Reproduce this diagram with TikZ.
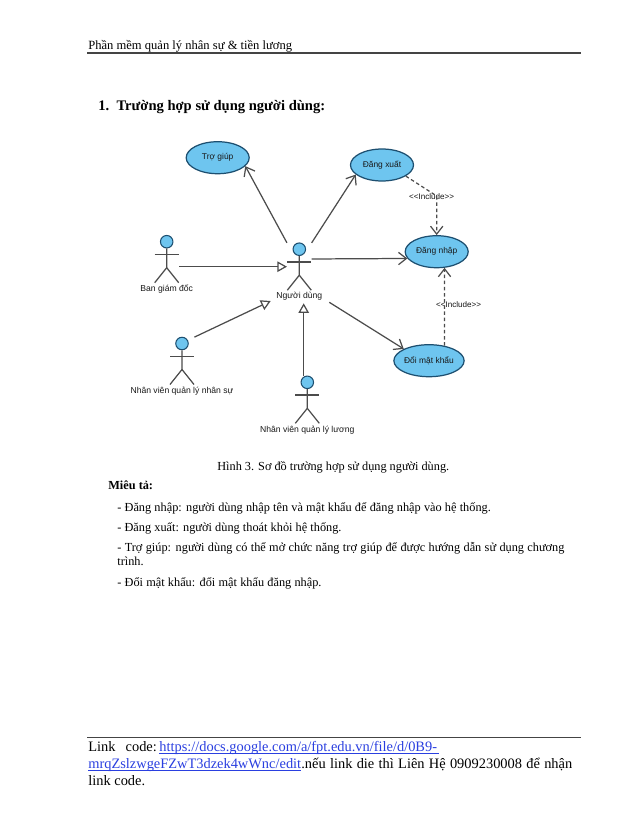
\documentclass[tikz,border=0pt]{standalone}
\usepackage{fontspec}
\setmainfont{Liberation Serif}
\setsansfont{Liberation Sans}
\usetikzlibrary{shapes.geometric,arrows.meta}
\definecolor{usecasefill}{HTML}{6EC5EF}
\definecolor{usecaseline}{HTML}{1D4F70}
\definecolor{linkblue}{HTML}{2A3FE0}
\definecolor{rulegray}{HTML}{444444}
\newcommand{\umlactor}[4]{
  \begin{scope}[shift={(#2,#3)}]
    \node[actorbox] (#1) at (0,0) {};
    \node[actorhead] (#1-head) at (0,-17.5) {};
    \draw[umlline] (#1-head) -- (0,8.5) -- (-12,23.5);
    \draw[umlline] (0,8.5) -- (12,23.5);
    \draw[umlline] (-12,-4.8) -- (12,-4.8);
    \node[actortext] (#1-label) at (0,30) {#4};
  \end{scope}
}
\begin{document}
\begin{tikzpicture}[
  x=0.02cm,y=-0.02cm,
  umlline/.style={draw=black!70,line width=0.7pt},
  usecase/.style={ellipse,draw=usecaseline,fill=usecasefill,line width=0.7pt,minimum width=1.26cm,minimum height=0.64cm,inner sep=0pt,text=black!90,font=\sffamily\fontsize{4.8}{6}\selectfont},
  actorbox/.style={rectangle,minimum width=0.48cm,minimum height=0.94cm,inner sep=0pt},
  actorhead/.style={circle,draw=usecaseline,fill=usecasefill,line width=0.6pt,minimum size=0.25cm,inner sep=0pt},
  actortext/.style={font=\sffamily\fontsize{4.9}{6}\selectfont,text=black!90,inner sep=0pt},
  inctext/.style={font=\sffamily\fontsize{4.6}{6}\selectfont,text=black!90,inner sep=0pt},
  assoc/.style={umlline,-{Straight Barb[length=4.5pt,width=7pt]}},
  general/.style={umlline,-{Triangle[open,length=5.5pt,width=6pt]}},
  incl/.style={umlline,dashed,dash pattern=on 2pt off 1.5pt,-{Straight Barb[length=4.5pt,width=7pt]}},
  pagetext/.style={anchor=base west,inner sep=0pt,font=\fontsize{7}{8}\selectfont},
  linktext/.style={anchor=base west,inner sep=0pt,font=\fontsize{8.2}{10}\selectfont}
]
  \useasboundingbox (0,0) rectangle (638,826);
  \fill[white] (0,0) rectangle (638,826);

  \node[pagetext,font=\fontsize{7.15}{8}\selectfont] (header) at (88,49) {Phần mềm quản lý nhân sự \& tiền lương};
  \coordinate (rule1l) at (87,52.7);
  \coordinate (rule1r) at (581,52.7);
  \draw[rulegray,line width=1pt] (rule1l) -- (rule1r);
  \node[pagetext,font=\fontsize{8.3}{10}\selectfont\bfseries] (title) at (98,110) {1.\ \ Trường hợp sử dụng người dùng:};

  \node[usecase] (trogiup) at (217.7,157.7) {Trợ giúp};
  \node[usecase] (dangxuat) at (382,165) {Đăng xuất};
  \node[usecase] (dangnhap) at (436.7,251.7) {Đăng nhập};
  \node[usecase] (doimk) at (429,360.7) {Đổi mật khẩu};

  \umlactor{bgd}{166.7}{259.2}{Ban giám đốc}
  \umlactor{nd}{299.3}{266.7}{Người dùng}
  \umlactor{nvns}{182}{361}{Nhân viên quản lý nhân sự}
  \umlactor{nvl}{307.3}{399.8}{Nhân viên quản lý lương}

  \coordinate (ndsw) at (270.7,301);
  \coordinate (nds) at (303.7,303.3);
  \coordinate (ndse) at (329.3,302.3);
  \draw[assoc] (nd.north west) -- (trogiup.-17);
  \draw[assoc] (nd.north east) -- (dangxuat.200);
  \draw[assoc] (nd.32) -- (dangnhap.193);
  \draw[assoc] (ndse) -- (doimk.155);
  \draw[general] (bgd.east |- nd.west) -- (nd.west);
  \draw[general] (nvns.north east) -- (ndsw);
  \draw[general] (nds |- nvl.north) -- (nds);

  \coordinate (incbend) at (436.7,196);
  \node[inctext] (inc1) at (431.7,196.7) {<{}<Include>{}>};
  \node[inctext] (inc2) at (458.7,304.3) {<{}<Include>{}>};
  \draw[incl] (dangxuat.-25) -- (incbend) -- (dangnhap.north);
  \draw[incl] (doimk.44) -- (dangnhap.-64);

  \node[pagetext] (caption) at (217,470) {\makebox[132pt][s]{Hình 3. Sơ đồ trường hợp sử dụng người dùng.}};
  \node[pagetext,font=\fontsize{7}{8}\selectfont\bfseries] (mota) at (108,489) {Miêu tả:};
  \node[pagetext] (line1) at (117,511) {\makebox[212.6pt][s]{- Đăng nhập: người dùng nhập tên và mật khẩu để đăng nhập vào hệ thống.}};
  \node[pagetext] (line2) at (117,531) {\makebox[127.6pt][s]{- Đăng xuất: người dùng thoát khỏi hệ thống.}};
  \node[pagetext] (line3) at (117,551.7) {\makebox[254.5pt][s]{- Trợ giúp: người dùng có thể mở chức năng trợ giúp để được hướng dẫn sử dụng chương}};
  \node[pagetext] (line4) at (117,565.7) {trình.};
  \node[pagetext] (line5) at (117,586.7) {\makebox[116.2pt][s]{- Đổi mật khẩu: đổi mật khẩu đăng nhập.}};

  \coordinate (rule2l) at (87,737.3);
  \coordinate (rule2r) at (581,737.3);
  \draw[rulegray,line width=0.8pt] (rule2l) -- (rule2r);
  \node[linktext] (link1) at (88,751.7) {\makebox[39pt][s]{Link code:}};
  \node[linktext,text=linkblue] (url1) at (159,751.7) {https://docs.google.com/a/fpt.edu.vn/file/d/0B9-};
  \node[linktext,text=linkblue] (url2) at (88,768.3) {mrqZslzwgeFZwT3dzek4wWnc/edit};
  \node[linktext] (link2) at (301,768.3) {\makebox[154.2pt][s]{.nếu link die thì Liên Hệ 0909230008 để nhận}};
  \node[linktext] (link3) at (88,785) {link code.};
  \draw[linkblue,line width=0.4pt] (url1.base west)++(0,1.6) -- ++(280,0);
  \draw[linkblue,line width=0.4pt] (url2.base west)++(0,1.6) -- ++(213,0);
\end{tikzpicture}
\end{document}
